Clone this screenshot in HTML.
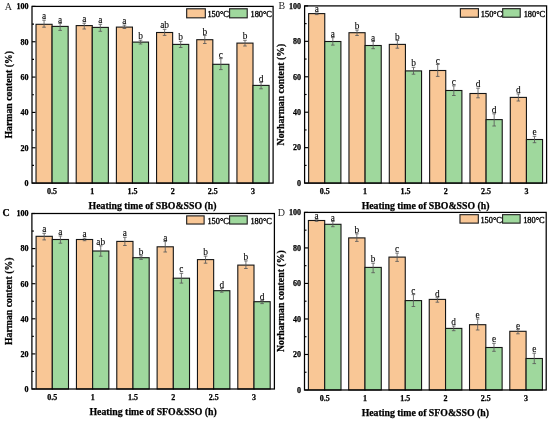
<!DOCTYPE html>
<html><head><meta charset="utf-8"><style>
html,body{margin:0;padding:0;background:#fff;}
svg{display:block;will-change:transform;}
text{font-family:"Liberation Serif", serif;fill:#000;}
.b{font-weight:bold;stroke:#000;stroke-width:0.25px;}
.n{font-weight:normal;fill:#2a2a2a;}
.lg{font-weight:normal;stroke:#000;stroke-width:0.35px;}
.r{font-weight:normal;stroke:#000;stroke-width:0.1px;}
</style></head><body>
<svg width="550" height="421" viewBox="0 0 550 421">
<rect width="550" height="421" fill="#fff"/>
<rect x="36.02" y="24.3" width="16.07" height="158.8" fill="#F9C796" stroke="#151515" stroke-width="1.1"/>
<path d="M44.05 20.2V27.2M42.26 20.2H45.85M42.26 27.2H45.85" stroke="#5a5a5a" stroke-width="0.85" fill="none"/>
<text x="44.05" y="19.3" text-anchor="middle" font-size="9.3" class="r">a</text>
<rect x="52.09" y="26.4" width="16.07" height="156.7" fill="#9FD89D" stroke="#151515" stroke-width="1.1"/>
<path d="M60.13 23.4V30.4M58.33 23.4H61.93M58.33 30.4H61.93" stroke="#5a5a5a" stroke-width="0.85" fill="none"/>
<text x="60.13" y="22.5" text-anchor="middle" font-size="9.3" class="r">a</text>
<rect x="76.2" y="25.6" width="16.07" height="157.5" fill="#F9C796" stroke="#151515" stroke-width="1.1"/>
<path d="M84.24 23.2V29M82.44 23.2H86.04M82.44 29H86.04" stroke="#5a5a5a" stroke-width="0.85" fill="none"/>
<text x="84.24" y="22.3" text-anchor="middle" font-size="9.3" class="r">a</text>
<rect x="92.28" y="27.4" width="16.07" height="155.7" fill="#9FD89D" stroke="#151515" stroke-width="1.1"/>
<path d="M100.31 24.3V31.3M98.51 24.3H102.11M98.51 31.3H102.11" stroke="#5a5a5a" stroke-width="0.85" fill="none"/>
<text x="100.31" y="23.4" text-anchor="middle" font-size="9.3" class="r">a</text>
<rect x="116.39" y="27.1" width="16.07" height="156" fill="#F9C796" stroke="#151515" stroke-width="1.1"/>
<path d="M124.42 25.1V28.5M122.62 25.1H126.22M122.62 28.5H126.22" stroke="#5a5a5a" stroke-width="0.85" fill="none"/>
<text x="124.42" y="24.2" text-anchor="middle" font-size="9.3" class="r">a</text>
<rect x="132.46" y="42.1" width="16.07" height="141" fill="#9FD89D" stroke="#151515" stroke-width="1.1"/>
<path d="M140.5 40.2V44M138.69 40.2H142.3M138.69 44H142.3" stroke="#5a5a5a" stroke-width="0.85" fill="none"/>
<text x="140.5" y="39.3" text-anchor="middle" font-size="9.3" class="r">b</text>
<rect x="156.57" y="32.5" width="16.07" height="150.6" fill="#F9C796" stroke="#151515" stroke-width="1.1"/>
<path d="M164.61 29.3V35.4M162.81 29.3H166.41M162.81 35.4H166.41" stroke="#5a5a5a" stroke-width="0.85" fill="none"/>
<text x="164.61" y="28.4" text-anchor="middle" font-size="9.3" class="r">ab</text>
<rect x="172.64" y="44.4" width="16.07" height="138.7" fill="#9FD89D" stroke="#151515" stroke-width="1.1"/>
<path d="M180.68 41.3V47.5M178.88 41.3H182.48M178.88 47.5H182.48" stroke="#5a5a5a" stroke-width="0.85" fill="none"/>
<text x="180.68" y="40.4" text-anchor="middle" font-size="9.3" class="r">b</text>
<rect x="196.75" y="39.7" width="16.07" height="143.4" fill="#F9C796" stroke="#151515" stroke-width="1.1"/>
<path d="M204.79 35.4V43.5M202.99 35.4H206.59M202.99 43.5H206.59" stroke="#5a5a5a" stroke-width="0.85" fill="none"/>
<text x="204.79" y="34.5" text-anchor="middle" font-size="9.3" class="r">b</text>
<rect x="212.83" y="64.3" width="16.07" height="118.8" fill="#9FD89D" stroke="#151515" stroke-width="1.1"/>
<path d="M220.86 58.6V69.6M219.06 58.6H222.66M219.06 69.6H222.66" stroke="#5a5a5a" stroke-width="0.85" fill="none"/>
<text x="220.86" y="57.7" text-anchor="middle" font-size="9.3" class="r">c</text>
<rect x="236.94" y="43.1" width="16.07" height="140" fill="#F9C796" stroke="#151515" stroke-width="1.1"/>
<path d="M244.97 40.3V46M243.17 40.3H246.77M243.17 46H246.77" stroke="#5a5a5a" stroke-width="0.85" fill="none"/>
<text x="244.97" y="39.4" text-anchor="middle" font-size="9.3" class="r">b</text>
<rect x="253.01" y="85.4" width="16.07" height="97.7" fill="#9FD89D" stroke="#151515" stroke-width="1.1"/>
<path d="M261.05 82.4V88.8M259.25 82.4H262.85M259.25 88.8H262.85" stroke="#5a5a5a" stroke-width="0.85" fill="none"/>
<text x="261.05" y="81.5" text-anchor="middle" font-size="9.3" class="r">d</text>
<path d="M32 183.1H35.5" stroke="#000" stroke-width="1.15"/>
<text x="28.5" y="185.9" text-anchor="end" font-size="8" class="b">0</text>
<path d="M32 165.43H34" stroke="#000" stroke-width="1.15"/>
<path d="M32 147.76H35.5" stroke="#000" stroke-width="1.15"/>
<text x="28.5" y="150.56" text-anchor="end" font-size="8" class="b">20</text>
<path d="M32 130.09H34" stroke="#000" stroke-width="1.15"/>
<path d="M32 112.42H35.5" stroke="#000" stroke-width="1.15"/>
<text x="28.5" y="115.22" text-anchor="end" font-size="8" class="b">40</text>
<path d="M32 94.75H34" stroke="#000" stroke-width="1.15"/>
<path d="M32 77.08H35.5" stroke="#000" stroke-width="1.15"/>
<text x="28.5" y="79.88" text-anchor="end" font-size="8" class="b">60</text>
<path d="M32 59.41H34" stroke="#000" stroke-width="1.15"/>
<path d="M32 41.74H35.5" stroke="#000" stroke-width="1.15"/>
<text x="28.5" y="44.54" text-anchor="end" font-size="8" class="b">80</text>
<path d="M32 24.07H34" stroke="#000" stroke-width="1.15"/>
<path d="M32 6.4H35.5" stroke="#000" stroke-width="1.15"/>
<text x="28.5" y="9.2" text-anchor="end" font-size="8" class="b">100</text>
<rect x="32" y="6.4" width="241.1" height="176.7" fill="none" stroke="#000" stroke-width="1.25"/>
<text x="52.09" y="193.6" text-anchor="middle" font-size="8" class="b">0.5</text>
<text x="92.28" y="193.6" text-anchor="middle" font-size="8" class="b">1</text>
<text x="132.46" y="193.6" text-anchor="middle" font-size="8" class="b">1.5</text>
<text x="172.64" y="193.6" text-anchor="middle" font-size="8" class="b">2</text>
<text x="212.83" y="193.6" text-anchor="middle" font-size="8" class="b">2.5</text>
<text x="253.01" y="193.6" text-anchor="middle" font-size="8" class="b">3</text>
<text x="152.55" y="208.6" text-anchor="middle" font-size="9.8" class="b">Heating time of SBO&amp;SSO (h)</text>
<text transform="translate(11.7 94.75) rotate(-90)" x="0" y="0" text-anchor="middle" font-size="9.8" class="b">Harman content (%)</text>
<text x="4.8" y="9.8" font-size="10" class="n">A</text>
<rect x="186.67" y="8.77" width="18.65" height="9.05" fill="#F9C796" stroke="#222" stroke-width="1.15"/>
<rect x="229.57" y="8.77" width="17.65" height="9.05" fill="#9FD89D" stroke="#222" stroke-width="1.15"/>
<text x="207.4" y="16.9" font-size="8.35" class="lg">150°C</text>
<text x="250.5" y="16.9" font-size="8.35" class="lg">180°C</text>
<rect x="308.63" y="13.6" width="16.13" height="169.5" fill="#F9C796" stroke="#151515" stroke-width="1.1"/>
<path d="M316.7 13V14.6M314.9 13H318.5M314.9 14.6H318.5" stroke="#5a5a5a" stroke-width="0.85" fill="none"/>
<text x="316.7" y="12.1" text-anchor="middle" font-size="9.3" class="r">a</text>
<rect x="324.77" y="41.5" width="16.13" height="141.6" fill="#9FD89D" stroke="#151515" stroke-width="1.1"/>
<path d="M332.83 37.6V45.1M331.03 37.6H334.63M331.03 45.1H334.63" stroke="#5a5a5a" stroke-width="0.85" fill="none"/>
<text x="332.83" y="36.7" text-anchor="middle" font-size="9.3" class="r">a</text>
<rect x="348.97" y="32.7" width="16.13" height="150.4" fill="#F9C796" stroke="#151515" stroke-width="1.1"/>
<path d="M357.03 30V35.5M355.23 30H358.83M355.23 35.5H358.83" stroke="#5a5a5a" stroke-width="0.85" fill="none"/>
<text x="357.03" y="29.1" text-anchor="middle" font-size="9.3" class="r">b</text>
<rect x="365.1" y="45.5" width="16.13" height="137.6" fill="#9FD89D" stroke="#151515" stroke-width="1.1"/>
<path d="M373.17 41.5V48.7M371.37 41.5H374.97M371.37 48.7H374.97" stroke="#5a5a5a" stroke-width="0.85" fill="none"/>
<text x="373.17" y="40.6" text-anchor="middle" font-size="9.3" class="r">a</text>
<rect x="389.3" y="44.4" width="16.13" height="138.7" fill="#F9C796" stroke="#151515" stroke-width="1.1"/>
<path d="M397.37 40.4V48.2M395.57 40.4H399.17M395.57 48.2H399.17" stroke="#5a5a5a" stroke-width="0.85" fill="none"/>
<text x="397.37" y="39.5" text-anchor="middle" font-size="9.3" class="r">b</text>
<rect x="405.43" y="70.9" width="16.13" height="112.2" fill="#9FD89D" stroke="#151515" stroke-width="1.1"/>
<path d="M413.5 67.3V74.2M411.7 67.3H415.3M411.7 74.2H415.3" stroke="#5a5a5a" stroke-width="0.85" fill="none"/>
<text x="413.5" y="66.4" text-anchor="middle" font-size="9.3" class="r">b</text>
<rect x="429.63" y="70.5" width="16.13" height="112.6" fill="#F9C796" stroke="#151515" stroke-width="1.1"/>
<path d="M437.7 64.5V76.4M435.9 64.5H439.5M435.9 76.4H439.5" stroke="#5a5a5a" stroke-width="0.85" fill="none"/>
<text x="437.7" y="63.6" text-anchor="middle" font-size="9.3" class="r">c</text>
<rect x="445.77" y="90.5" width="16.13" height="92.6" fill="#9FD89D" stroke="#151515" stroke-width="1.1"/>
<path d="M453.83 85.8V95.5M452.03 85.8H455.63M452.03 95.5H455.63" stroke="#5a5a5a" stroke-width="0.85" fill="none"/>
<text x="453.83" y="84.9" text-anchor="middle" font-size="9.3" class="r">c</text>
<rect x="469.97" y="93.5" width="16.13" height="89.6" fill="#F9C796" stroke="#151515" stroke-width="1.1"/>
<path d="M478.03 88.2V97.8M476.23 88.2H479.83M476.23 97.8H479.83" stroke="#5a5a5a" stroke-width="0.85" fill="none"/>
<text x="478.03" y="87.3" text-anchor="middle" font-size="9.3" class="r">d</text>
<rect x="486.1" y="119.6" width="16.13" height="63.5" fill="#9FD89D" stroke="#151515" stroke-width="1.1"/>
<path d="M494.17 113.8V126M492.37 113.8H495.97M492.37 126H495.97" stroke="#5a5a5a" stroke-width="0.85" fill="none"/>
<text x="494.17" y="112.9" text-anchor="middle" font-size="9.3" class="r">d</text>
<rect x="510.3" y="97.4" width="16.13" height="85.7" fill="#F9C796" stroke="#151515" stroke-width="1.1"/>
<path d="M518.37 93.9V101M516.57 93.9H520.17M516.57 101H520.17" stroke="#5a5a5a" stroke-width="0.85" fill="none"/>
<text x="518.37" y="93" text-anchor="middle" font-size="9.3" class="r">d</text>
<rect x="526.43" y="139.5" width="16.13" height="43.6" fill="#9FD89D" stroke="#151515" stroke-width="1.1"/>
<path d="M534.5 136.3V142.7M532.7 136.3H536.3M532.7 142.7H536.3" stroke="#5a5a5a" stroke-width="0.85" fill="none"/>
<text x="534.5" y="135.4" text-anchor="middle" font-size="9.3" class="r">e</text>
<path d="M304.6 183.1H308.1" stroke="#000" stroke-width="1.15"/>
<text x="301.1" y="185.9" text-anchor="end" font-size="8" class="b">0</text>
<path d="M304.6 165.38H306.6" stroke="#000" stroke-width="1.15"/>
<path d="M304.6 147.66H308.1" stroke="#000" stroke-width="1.15"/>
<text x="301.1" y="150.46" text-anchor="end" font-size="8" class="b">20</text>
<path d="M304.6 129.94H306.6" stroke="#000" stroke-width="1.15"/>
<path d="M304.6 112.22H308.1" stroke="#000" stroke-width="1.15"/>
<text x="301.1" y="115.02" text-anchor="end" font-size="8" class="b">40</text>
<path d="M304.6 94.5H306.6" stroke="#000" stroke-width="1.15"/>
<path d="M304.6 76.78H308.1" stroke="#000" stroke-width="1.15"/>
<text x="301.1" y="79.58" text-anchor="end" font-size="8" class="b">60</text>
<path d="M304.6 59.06H306.6" stroke="#000" stroke-width="1.15"/>
<path d="M304.6 41.34H308.1" stroke="#000" stroke-width="1.15"/>
<text x="301.1" y="44.14" text-anchor="end" font-size="8" class="b">80</text>
<path d="M304.6 23.62H306.6" stroke="#000" stroke-width="1.15"/>
<path d="M304.6 5.9H308.1" stroke="#000" stroke-width="1.15"/>
<text x="301.1" y="8.7" text-anchor="end" font-size="8" class="b">100</text>
<rect x="304.6" y="5.9" width="242" height="177.2" fill="none" stroke="#000" stroke-width="1.25"/>
<text x="324.77" y="193.6" text-anchor="middle" font-size="8" class="b">0.5</text>
<text x="365.1" y="193.6" text-anchor="middle" font-size="8" class="b">1</text>
<text x="405.43" y="193.6" text-anchor="middle" font-size="8" class="b">1.5</text>
<text x="445.77" y="193.6" text-anchor="middle" font-size="8" class="b">2</text>
<text x="486.1" y="193.6" text-anchor="middle" font-size="8" class="b">2.5</text>
<text x="526.43" y="193.6" text-anchor="middle" font-size="8" class="b">3</text>
<text x="425.6" y="208.6" text-anchor="middle" font-size="9.8" class="b">Heating time of SBO&amp;SSO (h)</text>
<text transform="translate(284.3 94.5) rotate(-90)" x="0" y="0" text-anchor="middle" font-size="9.8" class="b">Norharman content (%)</text>
<text x="278.4" y="9.3" font-size="10" class="n">B</text>
<rect x="460.38" y="8.67" width="18.05" height="8.55" fill="#F9C796" stroke="#222" stroke-width="1.15"/>
<rect x="502.68" y="8.67" width="17.55" height="8.55" fill="#9FD89D" stroke="#222" stroke-width="1.15"/>
<text x="480.8" y="16.55" font-size="8.35" class="lg">150°C</text>
<text x="523.7" y="16.55" font-size="8.35" class="lg">180°C</text>
<rect x="36.1" y="236.3" width="16.2" height="152.7" fill="#F9C796" stroke="#151515" stroke-width="1.1"/>
<path d="M44.2 233.3V239.9M42.4 233.3H46M42.4 239.9H46" stroke="#5a5a5a" stroke-width="0.85" fill="none"/>
<text x="44.2" y="232.4" text-anchor="middle" font-size="9.3" class="r">a</text>
<rect x="52.3" y="239.5" width="16.2" height="149.5" fill="#9FD89D" stroke="#151515" stroke-width="1.1"/>
<path d="M60.4 236V243.2M58.6 236H62.2M58.6 243.2H62.2" stroke="#5a5a5a" stroke-width="0.85" fill="none"/>
<text x="60.4" y="235.1" text-anchor="middle" font-size="9.3" class="r">a</text>
<rect x="76.44" y="239.5" width="16.2" height="149.5" fill="#F9C796" stroke="#151515" stroke-width="1.1"/>
<path d="M84.54 238.2V240.7M82.74 238.2H86.34M82.74 240.7H86.34" stroke="#5a5a5a" stroke-width="0.85" fill="none"/>
<text x="84.54" y="237.3" text-anchor="middle" font-size="9.3" class="r">a</text>
<rect x="92.64" y="251" width="16.2" height="138" fill="#9FD89D" stroke="#151515" stroke-width="1.1"/>
<path d="M100.74 245.8V256.2M98.94 245.8H102.54M98.94 256.2H102.54" stroke="#5a5a5a" stroke-width="0.85" fill="none"/>
<text x="100.74" y="244.9" text-anchor="middle" font-size="9.3" class="r">ab</text>
<rect x="116.78" y="241.4" width="16.2" height="147.6" fill="#F9C796" stroke="#151515" stroke-width="1.1"/>
<path d="M124.88 237.3V245.5M123.08 237.3H126.68M123.08 245.5H126.68" stroke="#5a5a5a" stroke-width="0.85" fill="none"/>
<text x="124.88" y="236.4" text-anchor="middle" font-size="9.3" class="r">a</text>
<rect x="132.98" y="257.7" width="16.2" height="131.3" fill="#9FD89D" stroke="#151515" stroke-width="1.1"/>
<path d="M141.08 255.8V259.4M139.28 255.8H142.88M139.28 259.4H142.88" stroke="#5a5a5a" stroke-width="0.85" fill="none"/>
<text x="141.08" y="254.9" text-anchor="middle" font-size="9.3" class="r">b</text>
<rect x="157.12" y="246.8" width="16.2" height="142.2" fill="#F9C796" stroke="#151515" stroke-width="1.1"/>
<path d="M165.22 241.4V252M163.42 241.4H167.02M163.42 252H167.02" stroke="#5a5a5a" stroke-width="0.85" fill="none"/>
<text x="165.22" y="240.5" text-anchor="middle" font-size="9.3" class="r">a</text>
<rect x="173.32" y="278.2" width="16.2" height="110.8" fill="#9FD89D" stroke="#151515" stroke-width="1.1"/>
<path d="M181.42 273.3V283.1M179.62 273.3H183.22M179.62 283.1H183.22" stroke="#5a5a5a" stroke-width="0.85" fill="none"/>
<text x="181.42" y="272.4" text-anchor="middle" font-size="9.3" class="r">c</text>
<rect x="197.46" y="259.6" width="16.2" height="129.4" fill="#F9C796" stroke="#151515" stroke-width="1.1"/>
<path d="M205.56 256.1V263.2M203.76 256.1H207.36M203.76 263.2H207.36" stroke="#5a5a5a" stroke-width="0.85" fill="none"/>
<text x="205.56" y="255.2" text-anchor="middle" font-size="9.3" class="r">b</text>
<rect x="213.66" y="290.7" width="16.2" height="98.3" fill="#9FD89D" stroke="#151515" stroke-width="1.1"/>
<path d="M221.76 288.4V292.2M219.96 288.4H223.56M219.96 292.2H223.56" stroke="#5a5a5a" stroke-width="0.85" fill="none"/>
<text x="221.76" y="287.5" text-anchor="middle" font-size="9.3" class="r">d</text>
<rect x="237.8" y="265.1" width="16.2" height="123.9" fill="#F9C796" stroke="#151515" stroke-width="1.1"/>
<path d="M245.9 260.9V268.5M244.1 260.9H247.7M244.1 268.5H247.7" stroke="#5a5a5a" stroke-width="0.85" fill="none"/>
<text x="245.9" y="260" text-anchor="middle" font-size="9.3" class="r">b</text>
<rect x="254" y="301.7" width="16.2" height="87.3" fill="#9FD89D" stroke="#151515" stroke-width="1.1"/>
<path d="M262.1 300.4V303.6M260.3 300.4H263.9M260.3 303.6H263.9" stroke="#5a5a5a" stroke-width="0.85" fill="none"/>
<text x="262.1" y="299.5" text-anchor="middle" font-size="9.3" class="r">d</text>
<path d="M31.9 389H35.4" stroke="#000" stroke-width="1.15"/>
<text x="28.4" y="391.8" text-anchor="end" font-size="8" class="b">0</text>
<path d="M31.9 371.45H33.9" stroke="#000" stroke-width="1.15"/>
<path d="M31.9 353.9H35.4" stroke="#000" stroke-width="1.15"/>
<text x="28.4" y="356.7" text-anchor="end" font-size="8" class="b">20</text>
<path d="M31.9 336.35H33.9" stroke="#000" stroke-width="1.15"/>
<path d="M31.9 318.8H35.4" stroke="#000" stroke-width="1.15"/>
<text x="28.4" y="321.6" text-anchor="end" font-size="8" class="b">40</text>
<path d="M31.9 301.25H33.9" stroke="#000" stroke-width="1.15"/>
<path d="M31.9 283.7H35.4" stroke="#000" stroke-width="1.15"/>
<text x="28.4" y="286.5" text-anchor="end" font-size="8" class="b">60</text>
<path d="M31.9 266.15H33.9" stroke="#000" stroke-width="1.15"/>
<path d="M31.9 248.6H35.4" stroke="#000" stroke-width="1.15"/>
<text x="28.4" y="251.4" text-anchor="end" font-size="8" class="b">80</text>
<path d="M31.9 231.05H33.9" stroke="#000" stroke-width="1.15"/>
<path d="M31.9 213.5H35.4" stroke="#000" stroke-width="1.15"/>
<text x="28.4" y="216.3" text-anchor="end" font-size="8" class="b">100</text>
<rect x="31.9" y="213.5" width="242.5" height="175.5" fill="none" stroke="#000" stroke-width="1.25"/>
<text x="52.3" y="399.5" text-anchor="middle" font-size="8" class="b">0.5</text>
<text x="92.64" y="399.5" text-anchor="middle" font-size="8" class="b">1</text>
<text x="132.98" y="399.5" text-anchor="middle" font-size="8" class="b">1.5</text>
<text x="173.32" y="399.5" text-anchor="middle" font-size="8" class="b">2</text>
<text x="213.66" y="399.5" text-anchor="middle" font-size="8" class="b">2.5</text>
<text x="254" y="399.5" text-anchor="middle" font-size="8" class="b">3</text>
<text x="153.15" y="414.5" text-anchor="middle" font-size="9.8" class="b">Heating time of SFO&amp;SSO (h)</text>
<text transform="translate(11.6 301.25) rotate(-90)" x="0" y="0" text-anchor="middle" font-size="9.8" class="b">Harman content (%)</text>
<text x="2.6" y="216" font-size="10" class="b">C</text>
<rect x="186.67" y="215.88" width="17.45" height="8.15" fill="#F9C796" stroke="#222" stroke-width="1.15"/>
<rect x="229.57" y="215.88" width="17.65" height="8.15" fill="#9FD89D" stroke="#222" stroke-width="1.15"/>
<text x="207.4" y="223.55" font-size="8.35" class="lg">150°C</text>
<text x="250.4" y="223.55" font-size="8.35" class="lg">180°C</text>
<rect x="308.4" y="220.5" width="16.3" height="169.5" fill="#F9C796" stroke="#151515" stroke-width="1.1"/>
<path d="M316.55 219.8V221.3M314.75 219.8H318.35M314.75 221.3H318.35" stroke="#5a5a5a" stroke-width="0.85" fill="none"/>
<text x="316.55" y="218.9" text-anchor="middle" font-size="9.3" class="r">a</text>
<rect x="324.7" y="224.3" width="16.3" height="165.7" fill="#9FD89D" stroke="#151515" stroke-width="1.1"/>
<path d="M332.85 221.4V226.7M331.05 221.4H334.65M331.05 226.7H334.65" stroke="#5a5a5a" stroke-width="0.85" fill="none"/>
<text x="332.85" y="220.5" text-anchor="middle" font-size="9.3" class="r">a</text>
<rect x="348.68" y="237.9" width="16.3" height="152.1" fill="#F9C796" stroke="#151515" stroke-width="1.1"/>
<path d="M356.83 233.8V241.4M355.03 233.8H358.63M355.03 241.4H358.63" stroke="#5a5a5a" stroke-width="0.85" fill="none"/>
<text x="356.83" y="232.9" text-anchor="middle" font-size="9.3" class="r">b</text>
<rect x="364.98" y="267.4" width="16.3" height="122.6" fill="#9FD89D" stroke="#151515" stroke-width="1.1"/>
<path d="M373.13 263.2V272.7M371.33 263.2H374.93M371.33 272.7H374.93" stroke="#5a5a5a" stroke-width="0.85" fill="none"/>
<text x="373.13" y="262.3" text-anchor="middle" font-size="9.3" class="r">b</text>
<rect x="388.96" y="257.1" width="16.3" height="132.9" fill="#F9C796" stroke="#151515" stroke-width="1.1"/>
<path d="M397.11 253.1V261.4M395.31 253.1H398.91M395.31 261.4H398.91" stroke="#5a5a5a" stroke-width="0.85" fill="none"/>
<text x="397.11" y="252.2" text-anchor="middle" font-size="9.3" class="r">c</text>
<rect x="405.26" y="300.6" width="16.3" height="89.4" fill="#9FD89D" stroke="#151515" stroke-width="1.1"/>
<path d="M413.41 294.6V306.5M411.61 294.6H415.21M411.61 306.5H415.21" stroke="#5a5a5a" stroke-width="0.85" fill="none"/>
<text x="413.41" y="293.7" text-anchor="middle" font-size="9.3" class="r">c</text>
<rect x="429.24" y="299.4" width="16.3" height="90.6" fill="#F9C796" stroke="#151515" stroke-width="1.1"/>
<path d="M437.39 297.7V302.2M435.59 297.7H439.19M435.59 302.2H439.19" stroke="#5a5a5a" stroke-width="0.85" fill="none"/>
<text x="437.39" y="296.8" text-anchor="middle" font-size="9.3" class="r">d</text>
<rect x="445.54" y="328.4" width="16.3" height="61.6" fill="#9FD89D" stroke="#151515" stroke-width="1.1"/>
<path d="M453.69 326V330.7M451.89 326H455.49M451.89 330.7H455.49" stroke="#5a5a5a" stroke-width="0.85" fill="none"/>
<text x="453.69" y="325.1" text-anchor="middle" font-size="9.3" class="r">d</text>
<rect x="469.52" y="324.7" width="16.3" height="65.3" fill="#F9C796" stroke="#151515" stroke-width="1.1"/>
<path d="M477.67 319V330M475.87 319H479.47M475.87 330H479.47" stroke="#5a5a5a" stroke-width="0.85" fill="none"/>
<text x="477.67" y="318.1" text-anchor="middle" font-size="9.3" class="r">e</text>
<rect x="485.82" y="347.5" width="16.3" height="42.5" fill="#9FD89D" stroke="#151515" stroke-width="1.1"/>
<path d="M493.97 343.3V351.3M492.17 343.3H495.77M492.17 351.3H495.77" stroke="#5a5a5a" stroke-width="0.85" fill="none"/>
<text x="493.97" y="342.4" text-anchor="middle" font-size="9.3" class="r">e</text>
<rect x="509.8" y="331.3" width="16.3" height="58.7" fill="#F9C796" stroke="#151515" stroke-width="1.1"/>
<path d="M517.95 329.4V333.8M516.15 329.4H519.75M516.15 333.8H519.75" stroke="#5a5a5a" stroke-width="0.85" fill="none"/>
<text x="517.95" y="328.5" text-anchor="middle" font-size="9.3" class="r">e</text>
<rect x="526.1" y="358.5" width="16.3" height="31.5" fill="#9FD89D" stroke="#151515" stroke-width="1.1"/>
<path d="M534.25 353.2V363.6M532.45 353.2H536.05M532.45 363.6H536.05" stroke="#5a5a5a" stroke-width="0.85" fill="none"/>
<text x="534.25" y="352.3" text-anchor="middle" font-size="9.3" class="r">e</text>
<path d="M304.5 390H308" stroke="#000" stroke-width="1.15"/>
<text x="301" y="392.8" text-anchor="end" font-size="8" class="b">0</text>
<path d="M304.5 372.24H306.5" stroke="#000" stroke-width="1.15"/>
<path d="M304.5 354.48H308" stroke="#000" stroke-width="1.15"/>
<text x="301" y="357.28" text-anchor="end" font-size="8" class="b">20</text>
<path d="M304.5 336.72H306.5" stroke="#000" stroke-width="1.15"/>
<path d="M304.5 318.96H308" stroke="#000" stroke-width="1.15"/>
<text x="301" y="321.76" text-anchor="end" font-size="8" class="b">40</text>
<path d="M304.5 301.2H306.5" stroke="#000" stroke-width="1.15"/>
<path d="M304.5 283.44H308" stroke="#000" stroke-width="1.15"/>
<text x="301" y="286.24" text-anchor="end" font-size="8" class="b">60</text>
<path d="M304.5 265.68H306.5" stroke="#000" stroke-width="1.15"/>
<path d="M304.5 247.92H308" stroke="#000" stroke-width="1.15"/>
<text x="301" y="250.72" text-anchor="end" font-size="8" class="b">80</text>
<path d="M304.5 230.16H306.5" stroke="#000" stroke-width="1.15"/>
<path d="M304.5 212.4H308" stroke="#000" stroke-width="1.15"/>
<text x="301" y="215.2" text-anchor="end" font-size="8" class="b">100</text>
<rect x="304.5" y="212.4" width="241.7" height="177.6" fill="none" stroke="#000" stroke-width="1.25"/>
<text x="324.7" y="400.5" text-anchor="middle" font-size="8" class="b">0.5</text>
<text x="364.98" y="400.5" text-anchor="middle" font-size="8" class="b">1</text>
<text x="405.26" y="400.5" text-anchor="middle" font-size="8" class="b">1.5</text>
<text x="445.54" y="400.5" text-anchor="middle" font-size="8" class="b">2</text>
<text x="485.82" y="400.5" text-anchor="middle" font-size="8" class="b">2.5</text>
<text x="526.1" y="400.5" text-anchor="middle" font-size="8" class="b">3</text>
<text x="425.35" y="415.5" text-anchor="middle" font-size="9.8" class="b">Heating time of SFO&amp;SSO (h)</text>
<text transform="translate(284.2 301.2) rotate(-90)" x="0" y="0" text-anchor="middle" font-size="9.8" class="b">Norharman content (%)</text>
<text x="277.8" y="216" font-size="10" class="n">D</text>
<rect x="459.97" y="214.67" width="18.35" height="8.45" fill="#F9C796" stroke="#222" stroke-width="1.15"/>
<rect x="502.57" y="214.67" width="17.55" height="8.45" fill="#9FD89D" stroke="#222" stroke-width="1.15"/>
<text x="480.4" y="222.5" font-size="8.35" class="lg">150°C</text>
<text x="523.2" y="222.5" font-size="8.35" class="lg">180°C</text>
</svg>
</body></html>
